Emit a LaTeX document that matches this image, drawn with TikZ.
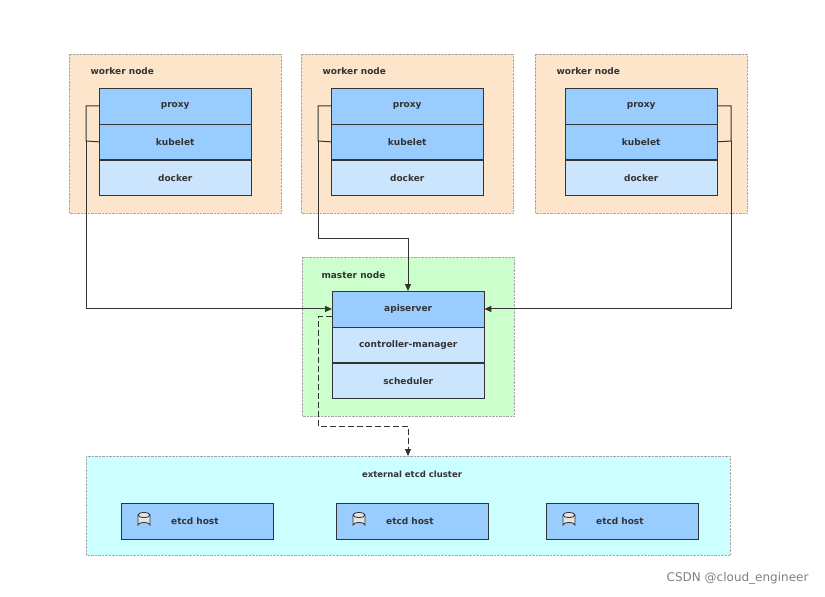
\documentclass[tikz,border=0pt]{standalone}
\usepackage{fontspec}
\setmainfont{DejaVu Sans}
\usetikzlibrary{arrows.meta}
\definecolor{workerbg}{HTML}{FDE5CC}
\definecolor{masterbg}{HTML}{CCFFCC}
\definecolor{etcdbg}{HTML}{CCFFFF}
\definecolor{darkcell}{HTML}{99CCFF}
\definecolor{lightcell}{HTML}{CCE5FF}
\definecolor{edge}{HTML}{333333}
\tikzset{
  group/.style={draw=gray!70, densely dotted, inner sep=0pt},
  cell/.style={draw=edge, minimum width=152pt, minimum height=35.5pt, inner sep=0pt,
    font=\fontsize{9}{10}\selectfont\bfseries, text=edge},
  link/.style={draw=edge, line width=1pt, -{Triangle[length=7pt,width=6pt]}},
  pics/drum/.style={code={
    \draw[edge, fill=gray!20, line width=0.8pt] (-6,-5) -- (-6,5) arc[start angle=180,end angle=360,x radius=6,y radius=2.5]
      -- (6,-5) arc[start angle=0,end angle=-180,x radius=6,y radius=2.5] -- cycle;
    \draw[edge, line width=0.8pt] (-6,-5) arc[start angle=180,end angle=0,x radius=6,y radius=2.5];
  }}
}
\begin{document}
\begin{tikzpicture}[x=1pt,y=-1pt]
  \useasboundingbox (0,0) rectangle (825,597);
  % worker nodes
  \foreach \n/\x in {wa/69,wb/301,wc/535}{
    \filldraw[group, fill=workerbg] (\x,54) rectangle ++(212,159);
    \node[anchor=west, font=\fontsize{9}{10}\selectfont\bfseries, text=edge] at (\x+18,71) {worker node};
    \node[cell, fill=darkcell, anchor=north west] (\n-proxy) at (\x+30,88) {proxy};
    \node[cell, fill=darkcell, anchor=north] (\n-kubelet) at (\n-proxy.south) {kubelet};
    \node[cell, fill=lightcell, anchor=north] (\n-docker) at (\n-kubelet.south) {docker};
  }
  % master node
  \filldraw[group, fill=masterbg] (302,257) rectangle (514,416);
  \node[anchor=west, font=\fontsize{9}{10}\selectfont\bfseries, text=edge] at (318,275) {master node};
  \node[cell, fill=darkcell, anchor=north west] (api) at (332,291) {apiserver};
  \node[cell, fill=lightcell, anchor=north] (cm) at (api.south) {controller-manager};
  \node[cell, fill=lightcell, anchor=north] (sched) at (cm.south) {scheduler};
  % external etcd cluster
  \filldraw[group, fill=etcdbg] (86,456) coordinate (etcd-nw) rectangle (730,555);
  \coordinate (etcd-top) at (408,456);
  \node[font=\fontsize{8.5}{10}\selectfont\bfseries, text=edge] at (412,474) {external etcd cluster};
  \foreach \n/\x in {ea/121,eb/336,ec/546}{
    \node[cell, fill=darkcell, anchor=north west, text width=100pt, align=left, inner sep=0pt,
      text depth=0pt] (\n) at (\x,503) {\hspace*{0pt}\qquad\ \ etcd host};
    \pic at (\x+23,520) {drum};
  }
  % connectors
  \draw[edge, line width=1pt] (wa-proxy.west) -| (86,141) -- (wa-kubelet.west);
  \draw[link] (86,141) |- (api.west);
  \draw[edge, line width=1pt] (wb-proxy.west) -| (318,141) -- (wb-kubelet.west);
  \draw[link] (318,141) |- (408,238) -- (api.north -| 408,0);
  \draw[edge, line width=1pt] (wc-proxy.east) -| (731,141) -- (wc-kubelet.east);
  \draw[link] (731,141) |- (api.east);
  \draw[link, dashed, dash pattern=on 6pt off 3pt] ([yshift=-8pt]api.west) -| (318,426) -| (etcd-top);
  % watermark
  \node[anchor=east, font=\fontsize{12}{14}\selectfont, text=gray] at (812,578) {CSDN @cloud\_engineer};
\end{tikzpicture}
\end{document}
